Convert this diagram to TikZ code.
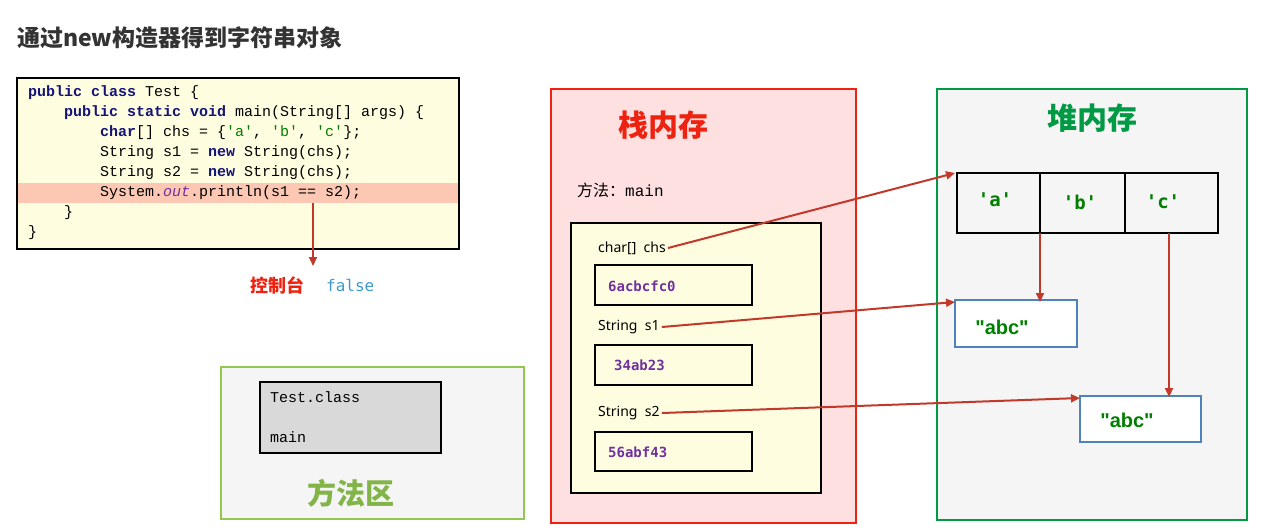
\documentclass[tikz,border=0pt]{standalone}
\usepackage{fontspec}
\setmainfont{Noto Sans}
\newfontfamily\cjk{Noto Sans CJK SC}
\newfontfamily\codef{Liberation Mono}
\newfontfamily\dejamono{DejaVu Sans Mono}
\newfontfamily\abcf{Liberation Sans}
\usetikzlibrary{arrows.meta}
\definecolor{arr}{RGB}{192,57,43}
\definecolor{kw}{RGB}{20,20,120}
\definecolor{strg}{RGB}{0,128,0}
\definecolor{pur}{RGB}{112,48,160}
\definecolor{redb}{RGB}{238,34,17}
\definecolor{grnb}{RGB}{0,153,68}
\definecolor{lgrn}{RGB}{146,200,80}
\definecolor{blu}{RGB}{79,129,189}
\definecolor{hl}{RGB}{252,200,180}
\tikzset{
 conn/.style={draw=arr,line width=2pt,-{Triangle[length=9pt,width=8pt]}},
 cl/.style={anchor=west,inner sep=0,font=\codef\fontsize{15}{15}\selectfont},
 addr/.style={anchor=west,inner sep=0,font=\dejamono\bfseries\fontsize{14}{14}\selectfont,text=pur},
 vlab/.style={anchor=west,inner sep=0,font=\fontsize{14}{14}\selectfont},
 vbox/.style={draw,line width=1.5pt},
 chr/.style={font=\dejamono\bfseries\fontsize{19}{19}\selectfont,text=strg},
 abcs/.style={font=\abcf\bfseries\fontsize{20}{20}\selectfont,text=strg},
}
\begin{document}
\begin{tikzpicture}[x=1pt,y=-1pt]
\useasboundingbox (0,0) rectangle (1271,531);
\node[anchor=west,inner sep=0,font=\cjk\bfseries\fontsize{23}{23}\selectfont,text=black!80] (title) at (17,38) {通过new构造器得到字符串对象};
% code
\fill[yellow!12] (17,78) rectangle (459,249);
\fill[hl] (18,183) rectangle (458,203);
\draw[line width=1.5pt] (17,78) rectangle (459,249);
\node[cl] (c1) at (28,93) {\bfseries\color{kw}public class\color{black}\mdseries{} Test \{};
\node[cl] (c2) at (28,113) {\phantom{xxxx}\textcolor{kw}{\bfseries public static void} main(String[] args) \{};
\node[cl] (c3) at (28,133) {\phantom{xxxxxxxx}\textcolor{kw}{\bfseries char}[] chs = \{\textcolor{strg}{'a'}, \textcolor{strg}{'b'}, \textcolor{strg}{'c'}\};};
\node[cl] (c4) at (28,153) {\phantom{xxxxxxxx}String s1 = \textcolor{kw}{\bfseries new} String(chs);};
\node[cl] (c5) at (28,173) {\phantom{xxxxxxxx}String s2 = \textcolor{kw}{\bfseries new} String(chs);};
\node[cl] (c6) at (28,193) {\phantom{xxxxxxxx}System.\textcolor{pur}{\itshape out}.println(s1 == s2);};
\node[cl] (c7) at (28,213) {\phantom{xxxx}\}};
\node[cl] (c8) at (28,233) {\}};
\coordinate (pa) at (313,203);
\node[anchor=west,inner sep=0,font=\cjk\bfseries\fontsize{18}{18}\selectfont,text=redb] (con) at (250,285) {控制台};
\node[anchor=west,inner sep=0,font=\dejamono\fontsize{16}{16}\selectfont,text=blu!80!cyan] (fl) at (326,285) {false};
\draw[conn] (pa) -- (313,266);
% method area
\draw[lgrn,fill=green!5!gray!8,line width=2.5pt] (221,367) rectangle (524,519);
\draw[fill=gray!30,line width=1.2pt] (260,382) rectangle (441,453);
\node[cl] (tc) at (270,397) {Test.class};
\node[cl] (tm) at (270,437) {main};
\node[font=\cjk\bfseries\fontsize{29}{29}\selectfont,text=lgrn!90!black] (ma) at (351,493) {方法区};
% stack
\draw[redb,fill=red!12,line width=2.5pt] (551,89) rectangle (856,523);
\node[font=\cjk\bfseries\fontsize{30}{30}\selectfont,text=redb] (st) at (663,125) {栈内存};
\node[anchor=west,inner sep=0,font=\fontsize{16}{16}\selectfont] (mm) at (577,190) {\cjk 方法：\codef main};
\draw[fill=yellow!12,line width=1.2pt] (571,223) rectangle (821,493);
\node[vlab] (chs) at (598,248) {char[]\ \ chs};
\draw[vbox] (595,265) rectangle (752,305); \node[addr] (a1) at (608,286) {6acbcfc0};
\node[vlab] (s1) at (598,327) {String\ \ s1};
\draw[vbox] (595,345) rectangle (752,385); \node[addr] (a2) at (614,365) {34ab23};
\node[vlab] (s2) at (598,413) {String\ \ s2};
\draw[vbox] (595,432) rectangle (752,471); \node[addr] (a3) at (608,452) {56abf43};
% heap
\draw[grnb,fill=green!5!gray!8,line width=2.5pt] (937,89) rectangle (1247,520);
\node[font=\cjk\bfseries\fontsize{30}{30}\selectfont,text=grnb] (hp) at (1092,118) {堆内存};
\draw[line width=1.5pt] (957,173) rectangle (1218,233) (1040,173)--(1040,233) (1125,173)--(1125,233);
\node[chr] (ca) at (995,200) {'a'};
\node[chr] (cb) at (1080,202) {'b'};
\node[chr] (cc) at (1163,202) {'c'};
\draw[blu,fill=white,line width=2pt] (955,300) rectangle (1077,347);
\node[abcs] (abc1) at (1002,327) {\char34 abc\char34};
\draw[blu,fill=white,line width=2pt] (1080,396) rectangle (1201,442);
\node[abcs] (abc2) at (1127,420) {\char34 abc\char34};
\coordinate (arrA) at (955,173);
\coordinate (h1) at (955,302);
\coordinate (h2) at (1080,398);
\draw[conn] (chs.east) ++(2,0) -- (arrA);
\draw[conn] (s1.east) ++(2,0) -- (h1);
\draw[conn] (s2.east) ++(2,0) -- (h2);
\draw[conn] (1040,233) -- (1040,302);
\draw[conn] (1169,233) -- (1169,397);
\end{tikzpicture}
\end{document}
